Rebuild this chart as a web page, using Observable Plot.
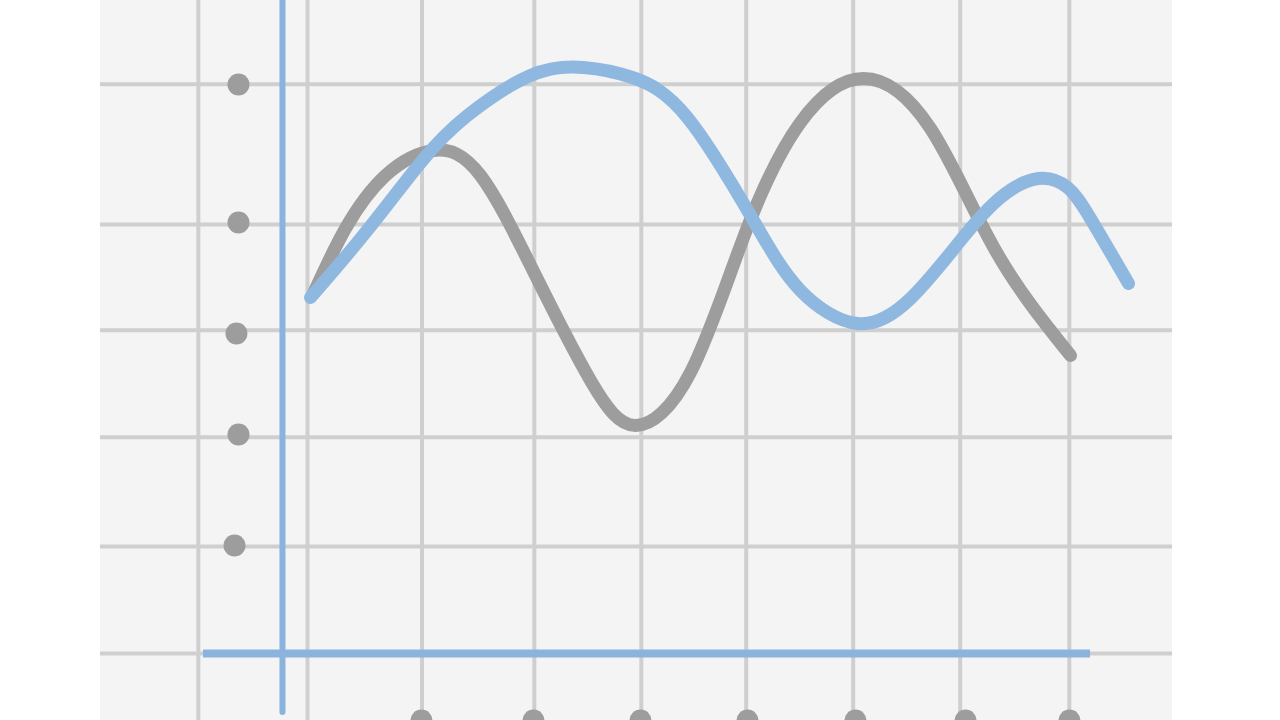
<!DOCTYPE html>
<html><head><meta charset="utf-8">
<script src="https://cdn.jsdelivr.net/npm/d3@7"></script>
<script src="https://cdn.jsdelivr.net/npm/@observablehq/plot@0.6"></script>
<style>html,body{margin:0;padding:0;background:#fff;overflow:hidden}</style>
</head><body><div id="chart"></div>
<script>
// grid positions (data units)
const gridX = [-1.02, 0, 1.07, 2.12, 3.12, 4.10, 5.10, 6.10, 7.12];
const gridY = [0, 1.0, 2.02, 3.02, 4.01, 5.32];

// gray series
const grayX = [0.056, 0.355, 0.729, 1.178, 1.617, 2.131, 2.645, 3.065, 3.579, 4.093, 4.607, 5.196, 5.822, 6.430, 7.131];
const grayY = [3.364, 3.972, 4.467, 4.701, 4.467, 3.533, 2.551, 2.131, 2.626, 3.935, 4.963, 5.374, 4.907, 3.766, 2.785];

// blue series
const blueX = [0.028, 0.542, 1.065, 1.495, 2.084, 2.579, 3.037, 3.551, 4.168, 4.607, 5.140, 5.636, 6.103, 6.477, 6.832, 7.103, 7.318, 7.673];
const blueY = [3.327, 3.935, 4.598, 5.028, 5.402, 5.477, 5.383, 5.009, 4.047, 3.393, 3.084, 3.318, 3.860, 4.262, 4.439, 4.355, 4.065, 3.458];

// tick dots
const leftDotX = [-0.645, -0.645, -0.664, -0.645, -0.682];
const leftDotY = [5.318, 4.028, 2.991, 2.047, 1.009];
const bottomDotX = [1.065, 2.112, 3.112, 4.112, 5.121, 6.150, 7.121];
const bottomDotY = -0.626;

// frame extents
const panelX = [-1.935, 8.084];
const yAxisX = -0.234, yAxisRange = [-0.551, 6.3];
const xAxisRange = [-0.972, 7.318];

const gray = grayX.map((x, i) => ({x, y: grayY[i]}));
const blue = blueX.map((x, i) => ({x, y: blueY[i]}));
const leftDots = leftDotX.map((x, i) => ({x, y: leftDotY[i]}));
const bottomDots = bottomDotX.map(x => ({x, y: bottomDotY}));

const gridC = "#cfcfcf", curveGray = "#9d9d9d", blueC = "#8fb8e0", axisC = "#8ab3dd";

const chart = Plot.plot({
  width: 1280, height: 720,
  margin: 0,
  x: {domain: [-307/107, 973/107], axis: null},
  y: {domain: [-67/107, 653/107], axis: null},
  style: {background: "#fff", overflow: "hidden"},
  marks: [
    Plot.rect([0], {x1: panelX[0], x2: panelX[1], y1: -1, y2: 7, fill: "#f4f4f4"}),
    Plot.ruleX(gridX, {stroke: gridC, strokeWidth: 4}),
    Plot.ruleY(gridY, {x1: panelX[0], x2: panelX[1], stroke: gridC, strokeWidth: 4}),
    Plot.dot(leftDots, {x: "x", y: "y", r: 11, fill: curveGray}),
    Plot.dot(bottomDots, {x: "x", y: "y", r: 11, fill: curveGray}),
    Plot.ruleX([yAxisX], {y1: yAxisRange[0], y2: yAxisRange[1], stroke: axisC, strokeWidth: 6, strokeLinecap: "round"}),
    Plot.ruleY([0], {x1: xAxisRange[0], x2: xAxisRange[1], stroke: axisC, strokeWidth: 8}),
    Plot.line(gray, {x: "x", y: "y", stroke: curveGray, strokeWidth: 13, curve: "natural", strokeLinecap: "round", strokeLinejoin: "round"}),
    Plot.line(blue, {x: "x", y: "y", stroke: blueC, strokeWidth: 13, curve: "natural", strokeLinecap: "round", strokeLinejoin: "round"})
  ]
});
document.getElementById("chart").appendChild(chart);
</script>
</body></html>
